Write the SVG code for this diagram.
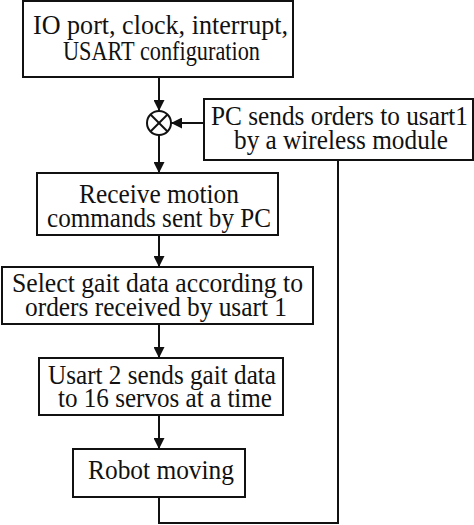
<svg xmlns="http://www.w3.org/2000/svg" width="474" height="525" viewBox="0 0 474 525">
<defs>
<style>
.box{fill:#fff;stroke:#111;stroke-width:2}
.t{font-family:"Liberation Serif","Times New Roman",serif;font-size:27px;fill:#111}
.c{fill:none;stroke:#111;stroke-width:2}
</style>
<marker id="ah" viewBox="0 0 10 10" refX="10" refY="5" markerWidth="11" markerHeight="11" markerUnits="userSpaceOnUse" orient="auto">
<path d="M0,0 L10,5 L0,10 Z" fill="#111"/>
</marker>
</defs>
<rect width="474" height="525" fill="#fff"/>
<g id="connectors">
<line class="c" x1="159" y1="77" x2="159" y2="111" marker-end="url(#ah)"/>
<line class="c" x1="159" y1="135" x2="159" y2="173" marker-end="url(#ah)"/>
<line class="c" x1="159" y1="235" x2="159" y2="267" marker-end="url(#ah)"/>
<line class="c" x1="159" y1="324" x2="159" y2="358" marker-end="url(#ah)"/>
<line class="c" x1="159" y1="415" x2="159" y2="449" marker-end="url(#ah)"/>
<line class="c" x1="204" y1="123" x2="171" y2="123" marker-end="url(#ah)"/>
<polyline class="c" points="159,497 159,523 338,523 338,160"/>
</g>
<g id="junction">
<circle cx="159" cy="123" r="12" fill="#fff" stroke="#111" stroke-width="2"/>
<line class="c" x1="150.5" y1="114.5" x2="167.5" y2="131.5" stroke-width="1.5"/>
<line class="c" x1="167.5" y1="114.5" x2="150.5" y2="131.5" stroke-width="1.5"/>
</g>
<g id="node1">
<rect class="box" x="23" y="1" width="270" height="76"/>
<text class="t" x="33" y="33.5" textLength="255" lengthAdjust="spacingAndGlyphs">IO port, clock, interrupt,</text>
<text class="t" x="63" y="59.5" textLength="197" lengthAdjust="spacingAndGlyphs">USART configuration</text>
</g>
<g id="node2">
<rect class="box" x="204" y="99" width="269" height="61"/>
<text class="t" x="211" y="125" textLength="257" lengthAdjust="spacingAndGlyphs">PC sends orders to usart1</text>
<text class="t" x="234" y="148.5" textLength="214" lengthAdjust="spacingAndGlyphs">by a wireless module</text>
</g>
<g id="node3">
<rect class="box" x="37" y="173" width="241" height="62"/>
<text class="t" x="79" y="203" textLength="160" lengthAdjust="spacingAndGlyphs">Receive motion</text>
<text class="t" x="47" y="226.5" textLength="224" lengthAdjust="spacingAndGlyphs">commands sent by PC</text>
</g>
<g id="node4">
<rect class="box" x="2" y="267" width="311" height="57"/>
<text class="t" x="12" y="291.5" textLength="291" lengthAdjust="spacingAndGlyphs">Select gait data according to</text>
<text class="t" x="25" y="315.5" textLength="262" lengthAdjust="spacingAndGlyphs">orders received by usart 1</text>
</g>
<g id="node5">
<rect class="box" x="39" y="358" width="244" height="57"/>
<text class="t" x="48" y="383.5" textLength="228" lengthAdjust="spacingAndGlyphs">Usart 2 sends gait data</text>
<text class="t" x="58" y="407" textLength="214" lengthAdjust="spacingAndGlyphs">to 16 servos at a time</text>
</g>
<g id="node6">
<rect class="box" x="73" y="449" width="172" height="48"/>
<text class="t" x="88" y="479" textLength="146" lengthAdjust="spacingAndGlyphs">Robot moving</text>
</g>
</svg>
